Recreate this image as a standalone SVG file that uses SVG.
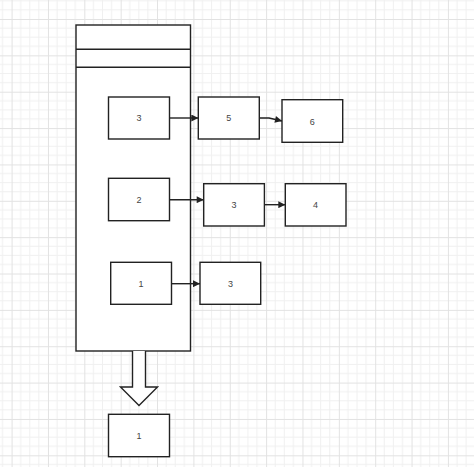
<svg xmlns="http://www.w3.org/2000/svg" width="474" height="467" viewBox="0 0 474 467">
<defs>
<pattern id="grid" x="11.6" y="19" width="36.36" height="36.36" patternUnits="userSpaceOnUse">
<path d="M9.09 0V36.36M18.18 0V36.36M27.27 0V36.36M0 9.09H36.36M0 18.18H36.36M0 27.27H36.36" stroke="#f0f0f0" stroke-width="1" fill="none"/>
<path d="M0.5 0V36.36M0 0.5H36.36" stroke="#e2e2e2" stroke-width="1" fill="none"/>
</pattern>
<marker id="ah" viewBox="0 0 10 10" refX="10" refY="5" markerWidth="10" markerHeight="7" markerUnits="userSpaceOnUse" orient="auto">
<path d="M0 0L10 5L0 10Z" fill="#222"/>
</marker>
</defs>
<style>
.box{fill:#fff;stroke:#222;stroke-width:1.4}
.cn{fill:none;stroke:#222;stroke-width:1.4}
.lb{font-family:"Liberation Sans",Arial,sans-serif;font-size:9px;fill:#444;text-anchor:middle;dominant-baseline:central}
</style>
<rect width="474" height="467" fill="#fff"/>
<rect width="474" height="467" fill="url(#grid)"/>
<g id="container">
<rect class="box" x="76" y="25" width="114.5" height="326"/>
<line class="cn" x1="76" y1="49.3" x2="190.5" y2="49.3"/>
<line class="cn" x1="76" y1="67.3" x2="190.5" y2="67.3"/>
</g>
<g id="connectors">
<line class="cn" x1="169.5" y1="118" x2="198.3" y2="118" marker-end="url(#ah)"/>
<path class="cn" d="M259.5 118H269L282 121" marker-end="url(#ah)"/>
<line class="cn" x1="169.5" y1="199.7" x2="203.7" y2="199.7" marker-end="url(#ah)"/>
<line class="cn" x1="264.5" y1="204.7" x2="285.3" y2="204.7" marker-end="url(#ah)"/>
<line class="cn" x1="171.5" y1="283.7" x2="200" y2="283.7" marker-end="url(#ah)"/>
<path class="box" d="M132.5 351V387H120.5L139 405.5L157.5 387H145.5V351"/>
</g>
<g id="n3a"><rect class="box" x="108.5" y="97" width="61" height="42"/><text class="lb" x="139" y="118">3</text></g>
<g id="n5"><rect class="box" x="198.3" y="97" width="61" height="42"/><text class="lb" x="228.8" y="118">5</text></g>
<g id="n6"><rect class="box" x="282" y="99.7" width="60.7" height="42.6"/><text class="lb" x="312.3" y="121.5">6</text></g>
<g id="n2"><rect class="box" x="108.5" y="178.3" width="61" height="42.4"/><text class="lb" x="139" y="199.5">2</text></g>
<g id="n3b"><rect class="box" x="203.7" y="183.7" width="60.7" height="42.3"/><text class="lb" x="234" y="205">3</text></g>
<g id="n4"><rect class="box" x="285.3" y="183.7" width="60.7" height="42.3"/><text class="lb" x="315.6" y="205">4</text></g>
<g id="n1a"><rect class="box" x="110.7" y="262.3" width="60.8" height="42"/><text class="lb" x="141" y="283.5">1</text></g>
<g id="n3c"><rect class="box" x="200" y="262.3" width="60.7" height="42"/><text class="lb" x="230.4" y="283.5">3</text></g>
<g id="n1b"><rect class="box" x="108.5" y="414.3" width="61" height="42.4"/><text class="lb" x="139" y="435.5">1</text></g>
</svg>
